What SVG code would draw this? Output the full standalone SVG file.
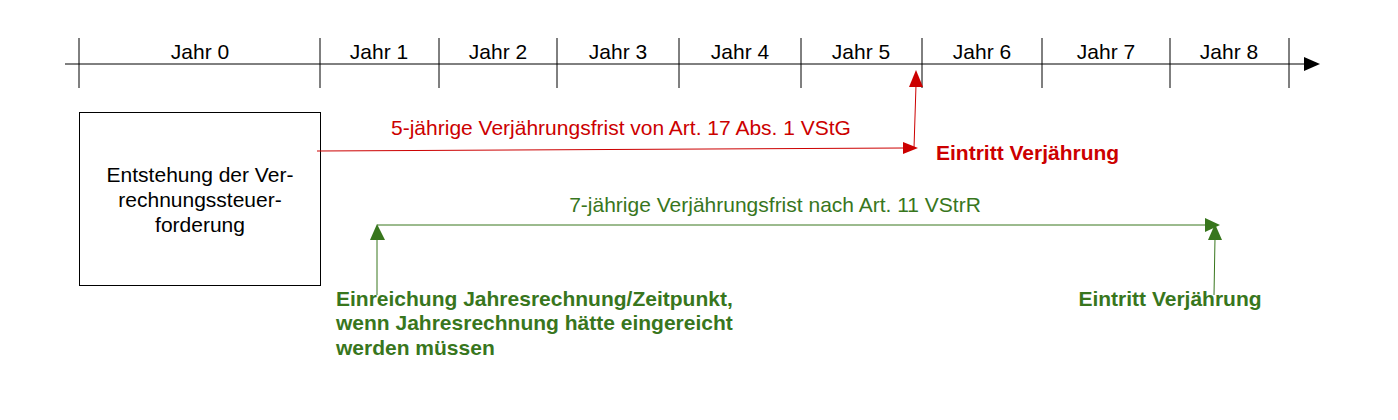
<svg xmlns="http://www.w3.org/2000/svg" width="1398" height="420" viewBox="0 0 1398 420">
<defs>
<style>
.lbl{font-family:"Liberation Sans",Arial,sans-serif;font-size:21px;fill:#000;text-anchor:middle}
.box{font-family:"Liberation Sans",Arial,sans-serif;font-size:21px;fill:#000;text-anchor:middle}
.red{font-family:"Liberation Sans",Arial,sans-serif;font-size:21px;fill:#CC0000}
.green{font-family:"Liberation Sans",Arial,sans-serif;font-size:21px;fill:#38761D}
.b{font-weight:bold}
.tick{stroke:#000;stroke-width:1}
</style>
</defs>
<rect width="1398" height="420" fill="#fff"/>
<g id="timeline">
<line x1="65" y1="64" x2="1305" y2="64" stroke="#000" stroke-width="1"/>
<polygon points="1320,64 1304,57 1304,71" fill="#000"/>
<g class="tick">
<line x1="79" y1="38" x2="79" y2="88"/>
<line x1="320" y1="38" x2="320" y2="88"/>
<line x1="439" y1="38" x2="439" y2="88"/>
<line x1="557" y1="38" x2="557" y2="88"/>
<line x1="679" y1="38" x2="679" y2="88"/>
<line x1="801" y1="38" x2="801" y2="88"/>
<line x1="922" y1="38" x2="922" y2="88"/>
<line x1="1042" y1="38" x2="1042" y2="88"/>
<line x1="1170" y1="38" x2="1170" y2="88"/>
<line x1="1289" y1="38" x2="1289" y2="88"/>
</g>
<text class="lbl" x="200" y="59">Jahr 0</text>
<text class="lbl" x="379" y="59">Jahr 1</text>
<text class="lbl" x="498" y="59">Jahr 2</text>
<text class="lbl" x="618" y="59">Jahr 3</text>
<text class="lbl" x="740" y="59">Jahr 4</text>
<text class="lbl" x="861" y="59">Jahr 5</text>
<text class="lbl" x="982" y="59">Jahr 6</text>
<text class="lbl" x="1106" y="59">Jahr 7</text>
<text class="lbl" x="1229" y="59">Jahr 8</text>
</g>
<g id="entstehung">
<rect x="79.5" y="112.5" width="241" height="173" fill="#fff" stroke="#000" stroke-width="1"/>
<text class="box" x="200" y="182">Entstehung der Ver-</text>
<text class="box" x="200" y="207">rechnungssteuer-</text>
<text class="box" x="200" y="232">forderung</text>
</g>
<g id="connectors">
<line x1="317" y1="151" x2="904" y2="148" stroke="#CC0000" stroke-width="1"/>
<polygon points="918,148 903,142 903,154" fill="#CC0000"/>
<line x1="914" y1="148" x2="916" y2="85" stroke="#CC0000" stroke-width="1"/>
<polygon points="916,70 909,87 923,87" fill="#CC0000"/>
<line x1="377" y1="225" x2="1206" y2="225" stroke="#38761D" stroke-width="1"/>
<polygon points="1220,225 1205,218 1205,232" fill="#38761D"/>
<line x1="377" y1="295" x2="377" y2="238" stroke="#38761D" stroke-width="1"/>
<polygon points="377,224 370,240 385,240" fill="#38761D"/>
<line x1="1214" y1="295" x2="1215" y2="238" stroke="#38761D" stroke-width="1"/>
<polygon points="1215,224 1208,240 1222,240" fill="#38761D"/>
</g>
<g id="labels">
<text class="red" x="621" y="135" text-anchor="middle">5-jährige Verjährungsfrist von Art. 17 Abs. 1 VStG</text>
<text class="red b" x="936" y="160">Eintritt Verjährung</text>
<text class="green" x="775" y="212" text-anchor="middle">7-jährige Verjährungsfrist nach Art. 11 VStrR</text>
<text class="green b" x="336" y="306">Einreichung Jahresrechnung/Zeitpunkt,</text>
<text class="green b" x="336" y="330">wenn Jahresrechnung hätte eingereicht</text>
<text class="green b" x="336" y="355">werden müssen</text>
<text class="green b" x="1170" y="306" text-anchor="middle">Eintritt Verjährung</text>
</g>
</svg>
